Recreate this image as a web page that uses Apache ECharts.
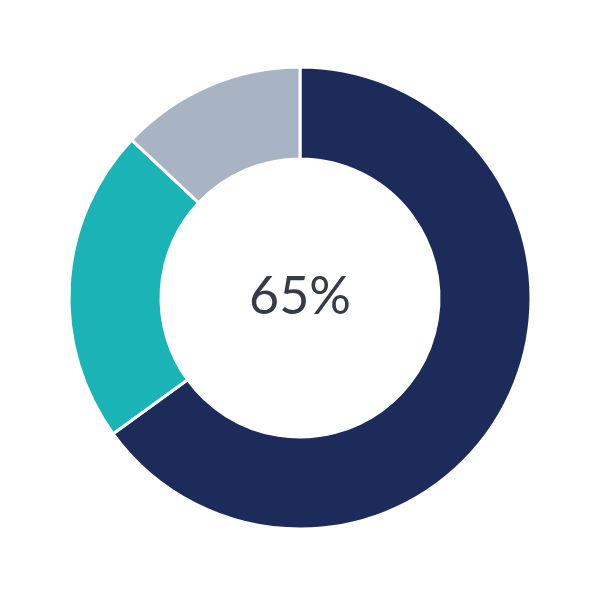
<!DOCTYPE html>
<html><head><meta charset="utf-8">
<script src="https://cdn.jsdelivr.net/npm/echarts@6/dist/echarts.min.js"></script>
<style>html,body{margin:0;padding:0;background:#fff}#c{width:600px;height:599px}</style>
</head><body><div id="c"></div>
<script>
const categories = ['Navy', 'Teal', 'Gray'];
const values = [65, 22, 13];
const colors = ['#1c2b5a', '#1bb4b6', '#a8b3c3'];
const centerLabel = '65%';

const chart = echarts.init(document.getElementById('c'));
chart.setOption({
  animation: false,
  graphic: [{
    type: 'text', left: 'center', top: 271,
    style: { text: centerLabel, font: '400 52px Lato, sans-serif', fill: '#363c46' }
  }],
  series: [{
    type: 'pie',
    center: [300, 298],
    radius: [139, 231],
    startAngle: 90,
    clockwise: true,
    label: { show: false },
    labelLine: { show: false },
    emphasis: { disabled: true },
    itemStyle: { borderColor: '#fff', borderWidth: 3 },
    data: categories.map((n, i) => ({ name: n, value: values[i], itemStyle: { color: colors[i] } }))
  }]
});
</script></body></html>
